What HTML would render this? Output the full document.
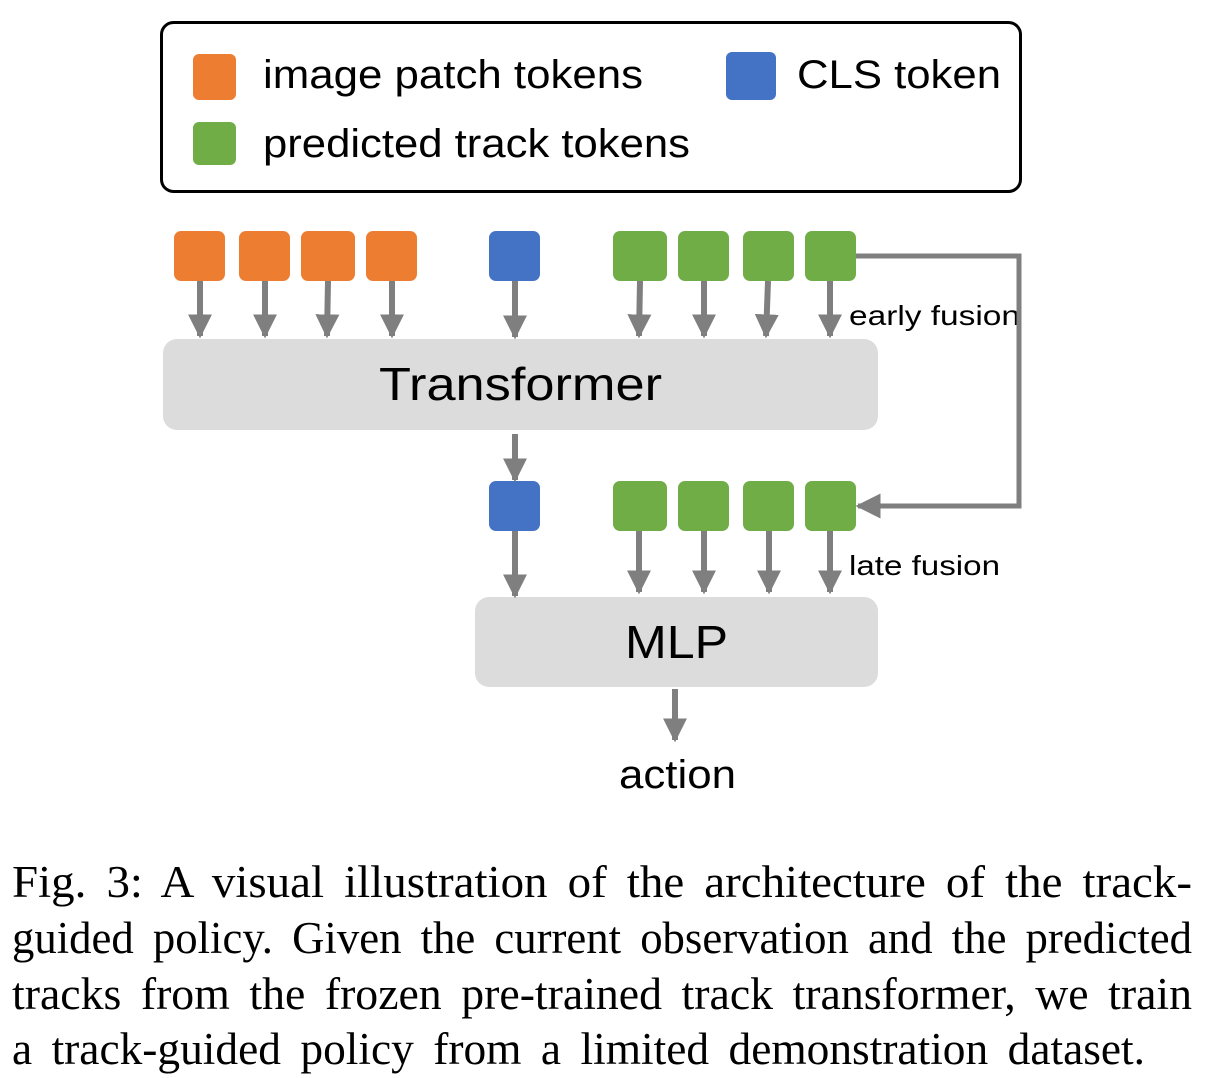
<!DOCTYPE html>
<html><head><meta charset="utf-8"><style>html,body{margin:0;padding:0;background:#fff;}svg{display:block}</style></head>
<body>
<svg width="1212" height="1078" viewBox="0 0 1212 1078" xmlns="http://www.w3.org/2000/svg">
<defs>
<marker id="ah" viewBox="0 0 10 10" refX="9" refY="5" markerWidth="4" markerHeight="4" orient="auto" markerUnits="strokeWidth">
<path d="M0,0 L10,5 L0,10 z" fill="#7f7f7f"/></marker>
<marker id="ah2" viewBox="0 0 10 10" refX="9" refY="5" markerWidth="5" markerHeight="5" orient="auto" markerUnits="strokeWidth">
<path d="M0,0 L10,5 L0,10 z" fill="#7f7f7f"/></marker>
</defs>
<g font-family="Liberation Sans, sans-serif" fill="#000">
<rect x="161.5" y="22.5" width="859" height="169" rx="12" fill="none" stroke="#000" stroke-width="3"/>
<rect x="193" y="54" width="43" height="46" rx="6" fill="#ed7d31"/>
<rect x="726" y="52" width="50" height="48" rx="6" fill="#4472c4"/>
<rect x="193" y="122" width="43" height="43" rx="6" fill="#70ad47"/>
<text x="263" y="88" font-size="40" textLength="380" lengthAdjust="spacingAndGlyphs">image patch tokens</text>
<text x="797" y="88" font-size="40" textLength="204" lengthAdjust="spacingAndGlyphs">CLS token</text>
<text x="263" y="157" font-size="40" textLength="427" lengthAdjust="spacingAndGlyphs">predicted track tokens</text>

<g fill="#ed7d31">
<rect x="174" y="231" width="51" height="50" rx="7"/><rect x="239" y="231" width="51" height="50" rx="7"/>
<rect x="301" y="231" width="54" height="50" rx="7"/><rect x="366" y="231" width="51" height="50" rx="7"/>
</g>
<rect x="489" y="231" width="51" height="50" rx="7" fill="#4472c4"/>
<g fill="#70ad47">
<rect x="613" y="231" width="54" height="50" rx="7"/><rect x="678" y="231" width="51" height="50" rx="7"/>
<rect x="743" y="231" width="51" height="50" rx="7"/><rect x="805" y="231" width="51" height="50" rx="7"/>
<rect x="613" y="481" width="54" height="50" rx="7"/><rect x="678" y="481" width="51" height="50" rx="7"/>
<rect x="743" y="481" width="51" height="50" rx="7"/><rect x="805" y="481" width="51" height="50" rx="7"/>
</g>
<rect x="489" y="481" width="51" height="50" rx="7" fill="#4472c4"/>

<rect x="163" y="339" width="715" height="91" rx="14" fill="#dcdcdc"/>
<rect x="475" y="597" width="403" height="90" rx="14" fill="#dcdcdc"/>
<text x="379" y="400" font-size="46" textLength="283" lengthAdjust="spacingAndGlyphs">Transformer</text>
<text x="625" y="658" font-size="46" textLength="103" lengthAdjust="spacingAndGlyphs">MLP</text>
<text x="619" y="788" font-size="40" textLength="117" lengthAdjust="spacingAndGlyphs">action</text>
<text x="849" y="325" font-size="28" textLength="171" lengthAdjust="spacingAndGlyphs">early fusion</text>
<text x="849" y="575" font-size="28" textLength="151" lengthAdjust="spacingAndGlyphs">late fusion</text>

<g stroke="#7f7f7f" stroke-width="6" fill="none" marker-end="url(#ah)">
<line x1="200" y1="281" x2="200" y2="336"/><line x1="265" y1="281" x2="265" y2="336"/>
<line x1="328" y1="281" x2="327" y2="336"/><line x1="392" y1="281" x2="392" y2="336"/>
<line x1="515" y1="281" x2="515" y2="337"/>
<line x1="640" y1="281" x2="639" y2="336"/><line x1="704" y1="281" x2="704" y2="336"/>
<line x1="768" y1="281" x2="766" y2="336"/><line x1="830" y1="281" x2="830" y2="336"/>
<line x1="515" y1="434" x2="515" y2="480"/>
<line x1="515" y1="531" x2="515" y2="596"/>
<line x1="639" y1="531" x2="639" y2="592"/><line x1="704" y1="531" x2="704" y2="592"/>
<line x1="769" y1="531" x2="769" y2="592"/><line x1="830" y1="531" x2="830" y2="592"/>
<line x1="675" y1="689" x2="675" y2="740"/>
</g>
<path d="M856,256 L1019,256 L1019,506 L858,506" stroke="#7f7f7f" stroke-width="5" fill="none" marker-end="url(#ah2)"/>
</g>
<g font-family="Liberation Serif, serif" font-size="45" fill="#000" word-spacing="8">
<text x="12" y="897" textLength="1180" lengthAdjust="spacingAndGlyphs">Fig. 3: A visual illustration of the architecture of the track-</text>
<text x="12" y="953" textLength="1180" lengthAdjust="spacingAndGlyphs">guided policy. Given the current observation and the predicted</text>
<text x="12" y="1009" textLength="1180" lengthAdjust="spacingAndGlyphs">tracks from the frozen pre-trained track transformer, we train</text>
<text x="12" y="1064" textLength="1133" lengthAdjust="spacingAndGlyphs">a track-guided policy from a limited demonstration dataset.</text>
</g>
</svg>
</body></html>
